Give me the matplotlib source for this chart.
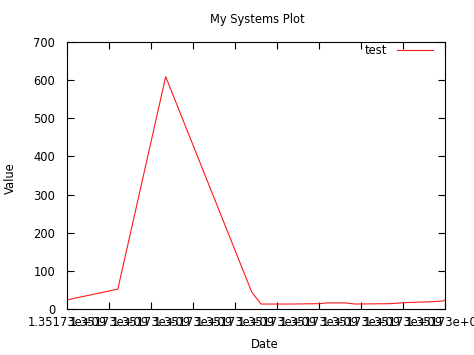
import matplotlib
matplotlib.use("Agg")
import matplotlib.pyplot as plt
from matplotlib.ticker import FixedLocator, FixedFormatter

# ----------------------------------------------------------
# Data (seconds offset from start, value)
# ----------------------------------------------------------

t0 = 1351730000
offsets = [0, 121, 235, 440, 462, 531, 602, 619, 662, 686, 769, 810, 864, 895, 900]
values = [24, 52, 609, 44, 13, 13, 14, 16, 16, 13, 14, 17, 19, 21, 24]
dates = [t0 + o for o in offsets]

tick_pos = [t0 + 100 * k for k in range(10)]
tick_lab = ["1.35173e+09"] * 10

# ----------------------------------------------------------
# Plot
# ----------------------------------------------------------

fig = plt.figure(figsize=(4.74, 3.55), dpi=100)
ax = fig.add_axes([67 / 474, 1 - 309 / 355, 378 / 474, 267 / 355])

ax.plot(dates, values, color="#ff1a1a", lw=0.8, label="test")

ax.set_xlim(tick_pos[0], tick_pos[-1])
ax.set_ylim(0, 700)
ax.xaxis.set_major_locator(FixedLocator(tick_pos))
ax.xaxis.set_major_formatter(FixedFormatter(tick_lab))
ax.set_yticks(range(0, 701, 100))

ax.tick_params(direction="in", length=5, width=0.8, top=True, right=True,
               labelsize=8.3, colors="black")
ax.tick_params(axis="y", pad=8.5)
ax.tick_params(axis="x", pad=5)
for s in ax.spines.values():
    s.set_linewidth(0.8)

fig.text(257 / 474, 1 - 19 / 355, "My Systems Plot", ha="center", va="center", fontsize=8.3)
fig.text(265 / 474, 1 - 344 / 355, "Date", ha="center", va="center", fontsize=8.3)
fig.text(10 / 474, 1 - 178 / 355, "Value", ha="center", va="center", rotation=90, fontsize=8.3)

ax.legend(loc="upper right", bbox_to_anchor=(0.980, 1.010), frameon=False,
          fontsize=8.3, handlelength=3.1, markerfirst=False, borderaxespad=0,
          handletextpad=0.9)

fig.savefig("out.png", dpi=100)
